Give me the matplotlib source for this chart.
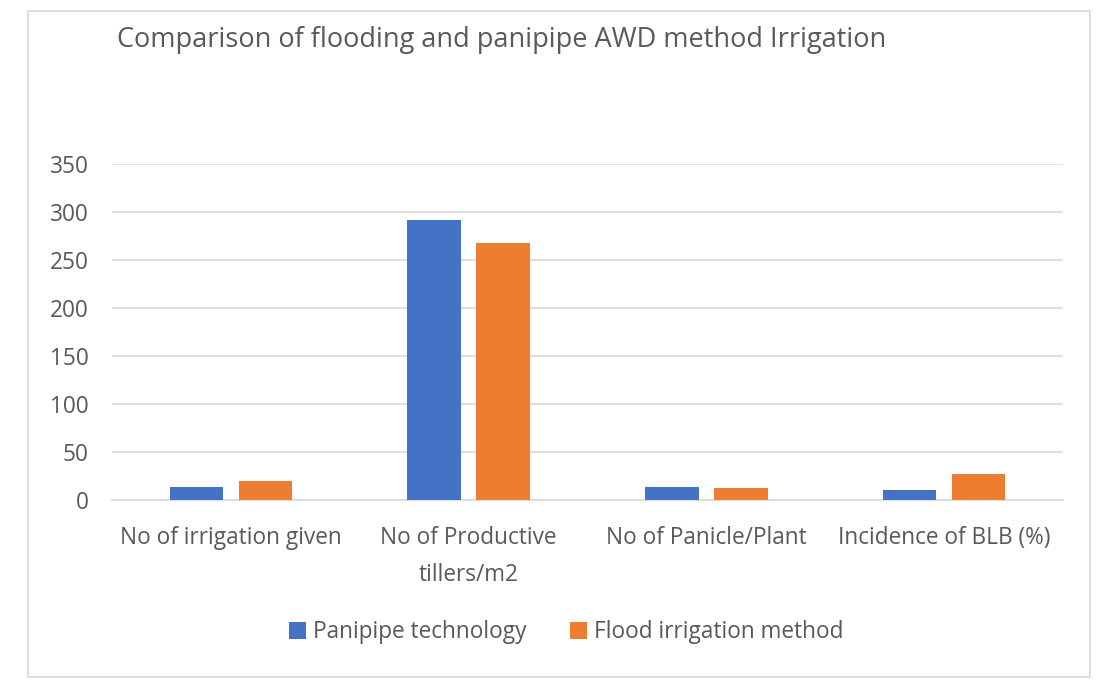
import numpy as np
import matplotlib
matplotlib.use('Agg')
import matplotlib.pyplot as plt
from matplotlib.patches import Rectangle

categories = ['No of irrigation given', 'No of Productive\ntillers/m2',
              'No of Panicle/Plant', 'Incidence of BLB (%)']
panipipe = [14, 292, 14, 10]
flood = [20, 268, 13, 27]
y_ticks = [0, 50, 100, 150, 200, 250, 300, 350]

plt.rcParams['font.family'] = ['Open Sans', 'DejaVu Sans']
grey = '#595959'
fs = 16.3

fig = plt.figure(figsize=(10.96, 6.86), dpi=100)
# chart frame
fig.patches.append(Rectangle((28/1096, 1-677/686), 1062/1096, 666/686,
                             transform=fig.transFigure, fill=False,
                             edgecolor='#D9D9D9', linewidth=1.2))

ax = fig.add_axes([112/1096, 1-500/686, 951/1096, 336/686])
x = np.arange(len(categories))
w = 0.225
ax.bar(x - 0.145, panipipe, w, color='#4472C4', label='Panipipe technology', zorder=3)
ax.bar(x + 0.145, flood, w, color='#ED7D31', label='Flood irrigation method', zorder=3)

ax.set_xlim(-0.5, len(categories) - 0.5)
ax.set_ylim(0, 350)
ax.set_yticks(y_ticks)
ax.set_xticks(x)
ax.set_xticklabels(categories, fontsize=fs, color=grey, linespacing=1.7)
ax.tick_params(axis='y', labelsize=fs, colors=grey, length=0, pad=17)
ax.tick_params(axis='x', length=0, pad=19)
ax.grid(axis='y', color='#D9D9D9', linewidth=1.2, zorder=0)
for s in ['top', 'right', 'left']:
    ax.spines[s].set_visible(False)
ax.spines['bottom'].set_color('#D9D9D9')
ax.spines['bottom'].set_linewidth(1.2)

fig.text(117/1096, 1-47/686, 'Comparison of flooding and panipipe AWD method Irrigation',
         fontsize=19.5, color=grey, va='baseline', ha='left')

fig.legend(loc='center', bbox_to_anchor=(566/1096, 1-632/686), ncol=2, frameon=False,
           fontsize=fs, labelcolor=grey, handlelength=0.78, handleheight=0.78,
           handletextpad=0.3, columnspacing=1.9)

fig.savefig('out.png', dpi=100)
